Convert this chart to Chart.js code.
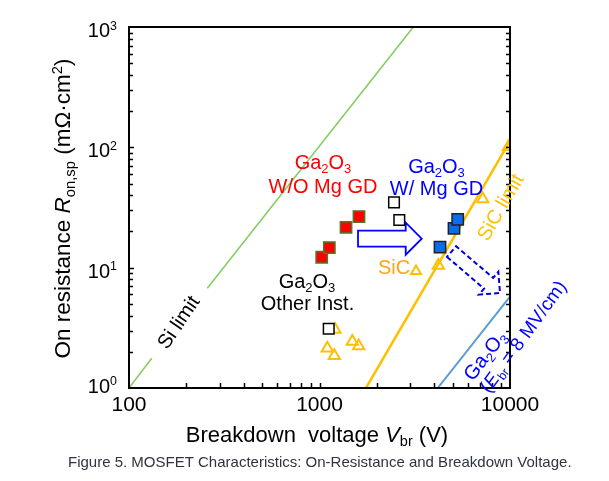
<!DOCTYPE html>
<html><head><meta charset="utf-8">
<script src="https://cdn.jsdelivr.net/npm/chart.js@4"></script>
<style>html,body{margin:0;padding:0;background:#fff;}#wrap{position:relative;width:609px;height:481px;}</style>
</head><body><div id="wrap"><canvas id="c" width="609" height="481"></canvas></div>
<script>
// ---- data ----
const xTickValues = [100, 1000, 10000];
const xTickLabels = ['100', '1000', '10000'];
const yTickValues = [1, 10, 100, 1000];
const yTickExponents = ['0', '1', '2', '3'];

const woMgV = [1027, 1126, 1378, 1612];
const woMgR = [12.2, 14.7, 21.6, 26.6];
const wMgV = [4291, 5082, 5315];
const wMgR = [14.8, 21.2, 25.2];
const otherV = [1118, 2461, 2624];
const otherR = [3.11, 34.9, 24.9];
const sicV = [1099, 1196, 1206, 1487, 1606, 4205, 7190, 9820];
const sicR = [2.14, 1.85, 3.07, 2.43, 2.23, 10.4, 37.2, 101];
const siLimitV = [100, 131.6, 190, 257.6, 3108];
const siLimitR = [1, 1.77, null, 6.74, 1000];
const sicLimitV = [1754, 10000];
const sicLimitR = [1, 112.9];
const gaLimitV = [4175, 10000];
const gaLimitR = [1, 5.74];
const arrowSolidFrom = [1593, 17.4];
const arrowSolidTo = [3440, 17.4];
const arrowDashedFrom = [4932, 13.6];
const arrowDashedTo = [8862, 6.16];

const pts = (xs, ys) => xs.map((x, i) => ({x: x, y: ys[i]}));
const FONT = '"Liberation Sans", Arial, Helvetica, sans-serif';

function setFont(ctx, size, italic) { ctx.font = (italic ? 'italic ' : '') + size + 'px ' + FONT; }
function partsWidth(ctx, parts, size) {
  let w = 0;
  for (const p of parts) { setFont(ctx, p.s ? size * p.s : size, p.i); w += ctx.measureText(p.t).width; }
  return w;
}
function drawParts(ctx, parts, x, y, size, color, align) {
  const w = partsWidth(ctx, parts, size);
  let cx = align === 'center' ? x - w / 2 : (align === 'right' ? x - w : x);
  ctx.fillStyle = color; ctx.textAlign = 'left'; ctx.textBaseline = 'alphabetic';
  for (const p of parts) {
    setFont(ctx, p.s ? size * p.s : size, p.i);
    ctx.fillText(p.t, cx, y + (p.dy || 0));
    cx += ctx.measureText(p.t).width;
  }
}
const GA = [{t: 'Ga'}, {t: '2', s: 0.65, dy: 4}, {t: 'O'}, {t: '3', s: 0.65, dy: 4}];

// text annotations (layout, pixel positions)
const labels = [
  {parts: GA, x: 323, y: 169, color: '#FF0000', align: 'center'},
  {parts: [{t: 'W/O Mg GD'}], x: 323, y: 192.5, color: '#FF0000', align: 'center'},
  {parts: GA, x: 436.5, y: 173, color: '#0000FF', align: 'center'},
  {parts: [{t: 'W/ Mg GD'}], x: 436.5, y: 195, color: '#0000FF', align: 'center'},
  {parts: GA, x: 307, y: 287.7, color: '#000', align: 'center'},
  {parts: [{t: 'Other Inst.'}], x: 307.5, y: 310, color: '#000', align: 'center'},
  {parts: [{t: 'SiC'}], x: 378, y: 274, color: '#FFA31A', align: 'left'},
];
const rotLabels = [
  {parts: [{t: 'Si limit'}], x: 178, y: 322, angle: -56, color: '#000', align: 'center', mid: true, size: 20},
  {parts: [{t: 'SiC limit'}], x: 500, y: 207, angle: -60, color: '#FFC000', align: 'center', mid: true, size: 20},
  {parts: GA, x: 473, y: 382, angle: -53, color: '#0000FF', align: 'left', size: 20},
  {parts: [{t: '(', }, {t: 'E', i: true}, {t: 'br', s: 0.65, dy: 4}, {t: ' = 8 MV/cm)'}], x: 489, y: 394, angle: -54, color: '#0000FF', align: 'left', size: 19},
];

function arrowPath(ctx, a, b, bw, hw, hl) {
  const dx = b.x - a.x, dy = b.y - a.y, L = Math.hypot(dx, dy);
  const ux = dx / L, uy = dy / L, nx = -uy, ny = ux;
  const kx = b.x - ux * hl, ky = b.y - uy * hl;
  ctx.beginPath();
  ctx.moveTo(a.x + nx * bw, a.y + ny * bw);
  ctx.lineTo(kx + nx * bw, ky + ny * bw);
  ctx.lineTo(kx + nx * hw, ky + ny * hw);
  ctx.lineTo(b.x, b.y);
  ctx.lineTo(kx - nx * hw, ky - ny * hw);
  ctx.lineTo(kx - nx * bw, ky - ny * bw);
  ctx.lineTo(a.x - nx * bw, a.y - ny * bw);
  ctx.closePath();
}

const decor = {
  id: 'decor',
  afterDraw(chart) {
    const ctx = chart.ctx, xs = chart.scales.x, ys = chart.scales.y, ca = chart.chartArea;
    const P = (v) => ({x: xs.getPixelForValue(v[0]), y: ys.getPixelForValue(v[1])});
    ctx.save();
    // arrows
    ctx.lineJoin = 'miter';
    ctx.strokeStyle = '#0000FF'; ctx.lineWidth = 1.8; ctx.fillStyle = '#fff';
    arrowPath(ctx, P(arrowSolidFrom), P(arrowSolidTo), 8, 16, 16);
    ctx.fill(); ctx.stroke();
    ctx.strokeStyle = '#0000DD'; ctx.lineWidth = 2; ctx.setLineDash([5, 3]);
    arrowPath(ctx, P(arrowDashedFrom), P(arrowDashedTo), 7, 15, 15);
    ctx.stroke(); ctx.setLineDash([]);
    // SiC legend triangle
    ctx.strokeStyle = '#FFC000'; ctx.lineWidth = 2;
    ctx.beginPath(); ctx.moveTo(416, 265.5); ctx.lineTo(421, 274); ctx.lineTo(411, 274); ctx.closePath(); ctx.stroke();
    // frame
    ctx.strokeStyle = '#000'; ctx.lineWidth = 2;
    ctx.strokeRect(ca.left, ca.top, ca.right - ca.left, ca.bottom - ca.top);
    // ticks inward
    ctx.lineWidth = 1.5;
    ctx.beginPath();
    for (let d = 0; d < 3; d++) {
      for (let k = 1; k <= 9; k++) {
        const v = k * Math.pow(10, d);
        const y = Math.round(ys.getPixelForValue(v)) + 0.5;
        if (k > 1 || d > 0) {
          const len = k === 1 ? 5 : 4;
          ctx.moveTo(ca.left, y); ctx.lineTo(ca.left + len, y);
          ctx.moveTo(ca.right, y); ctx.lineTo(ca.right - 4, y);
        }
      }
    }
    for (let d = 2; d < 4; d++) {
      for (let k = 1; k <= 9; k++) {
        const v = k * Math.pow(10, d);
        if (v === 100) continue;
        const x = Math.round(xs.getPixelForValue(v)) + 0.5;
        ctx.moveTo(x, ca.bottom); ctx.lineTo(x, ca.bottom - 5);
      }
    }
    ctx.stroke();
    // y tick labels
    yTickValues.forEach((v, i) => {
      const y = ys.getPixelForValue(v);
      const base = i === 0 ? y + 4.5 : y + 10;
      drawParts(ctx, [{t: '10'}, {t: yTickExponents[i], s: 0.62, dy: -7.5}], 117, base, 20, '#000', 'right');
    });
    // axis titles
    drawParts(ctx, [{t: 'Breakdown  voltage '}, {t: 'V', i: true}, {t: 'br', s: 0.66, dy: 4}, {t: ' (V)'}], 317, 441.7, 22, '#000', 'center');
    ctx.save(); ctx.translate(70, 208.5); ctx.rotate(-Math.PI / 2);
    drawParts(ctx, [{t: 'On resistance '}, {t: 'R', i: true}, {t: 'on,sp', s: 0.66, dy: 5}, {t: ' (mΩ·cm'}, {t: '2', s: 0.66, dy: -8}, {t: ')'}], 0, 0, 22.5, '#000', 'center');
    ctx.restore();
    // caption
    drawParts(ctx, [{t: 'Figure 5. MOSFET Characteristics: On-Resistance and Breakdown Voltage.'}], 68, 467, 15, '#2E3440', 'left');
    // in-plot labels
    labels.forEach(l => drawParts(ctx, l.parts, l.x, l.y, 20, l.color, l.align));
    rotLabels.forEach(l => {
      ctx.save(); ctx.translate(l.x, l.y); ctx.rotate(l.angle * Math.PI / 180);
      drawParts(ctx, l.parts, 0, l.mid ? 7 : 0, l.size, l.color, l.align);
      ctx.restore();
    });
    ctx.restore();
  }
};

new Chart(document.getElementById('c'), {
  type: 'scatter',
  data: {
    datasets: [
      {label: 'W/O Mg GD', data: pts(woMgV, woMgR), pointStyle: 'rect', pointRadius: 8, backgroundColor: '#FF0000', borderColor: '#4A7A2C', borderWidth: 1.5},
      {label: 'W/ Mg GD', data: pts(wMgV, wMgR), pointStyle: 'rect', pointRadius: 8, backgroundColor: '#0A6CF0', borderColor: '#222222', borderWidth: 1.5},
      {label: 'Other Inst.', data: pts(otherV, otherR), pointStyle: 'rect', pointRadius: 7.5, backgroundColor: '#FFFFFF', borderColor: '#000000', borderWidth: 1.5},
      {label: 'SiC', data: pts(sicV, sicR), pointStyle: 'triangle', pointRadius: 6.5, backgroundColor: 'rgba(255,255,255,0)', borderColor: '#FFC000', borderWidth: 2, clip: 0},
      {label: 'Si limit', data: pts(siLimitV, siLimitR), showLine: true, pointRadius: 0, borderColor: '#86CD62', borderWidth: 1.6, spanGaps: false},
      {label: 'SiC limit', data: pts(sicLimitV, sicLimitR), showLine: true, pointRadius: 0, borderColor: '#FFC000', borderWidth: 2.5},
      {label: 'Ga2O3 limit', data: pts(gaLimitV, gaLimitR), showLine: true, pointRadius: 0, borderColor: '#5B9BD5', borderWidth: 2}
    ]
  },
  options: {
    responsive: false, animation: false, devicePixelRatio: 1,
    layout: {padding: {left: 0, top: 27, right: 99, bottom: 0}},
    plugins: {legend: {display: false}, tooltip: {enabled: false}},
    scales: {
      x: {
        type: 'logarithmic', position: 'bottom', min: 100, max: 10000,
        afterBuildTicks: s => { s.ticks = xTickValues.map(v => ({value: v})); },
        afterFit: s => { s.height = 93; },
        ticks: {autoSkip: false, maxRotation: 0, minRotation: 0, padding: 5, color: '#000', font: {family: FONT, size: 21},
                callback: (v, i) => xTickLabels[i]},
        grid: {drawOnChartArea: false, drawTicks: false},
        border: {display: true, color: '#000', width: 2}
      },
      y: {
        type: 'logarithmic', position: 'left', min: 1, max: 1000,
        afterBuildTicks: s => { s.ticks = yTickValues.map(v => ({value: v})); },
        afterFit: s => { s.width = 129; },
        ticks: {display: false},
        grid: {drawOnChartArea: false, drawTicks: false},
        border: {display: true, color: '#000', width: 2}
      }
    }
  },
  plugins: [decor]
});
</script></body></html>
